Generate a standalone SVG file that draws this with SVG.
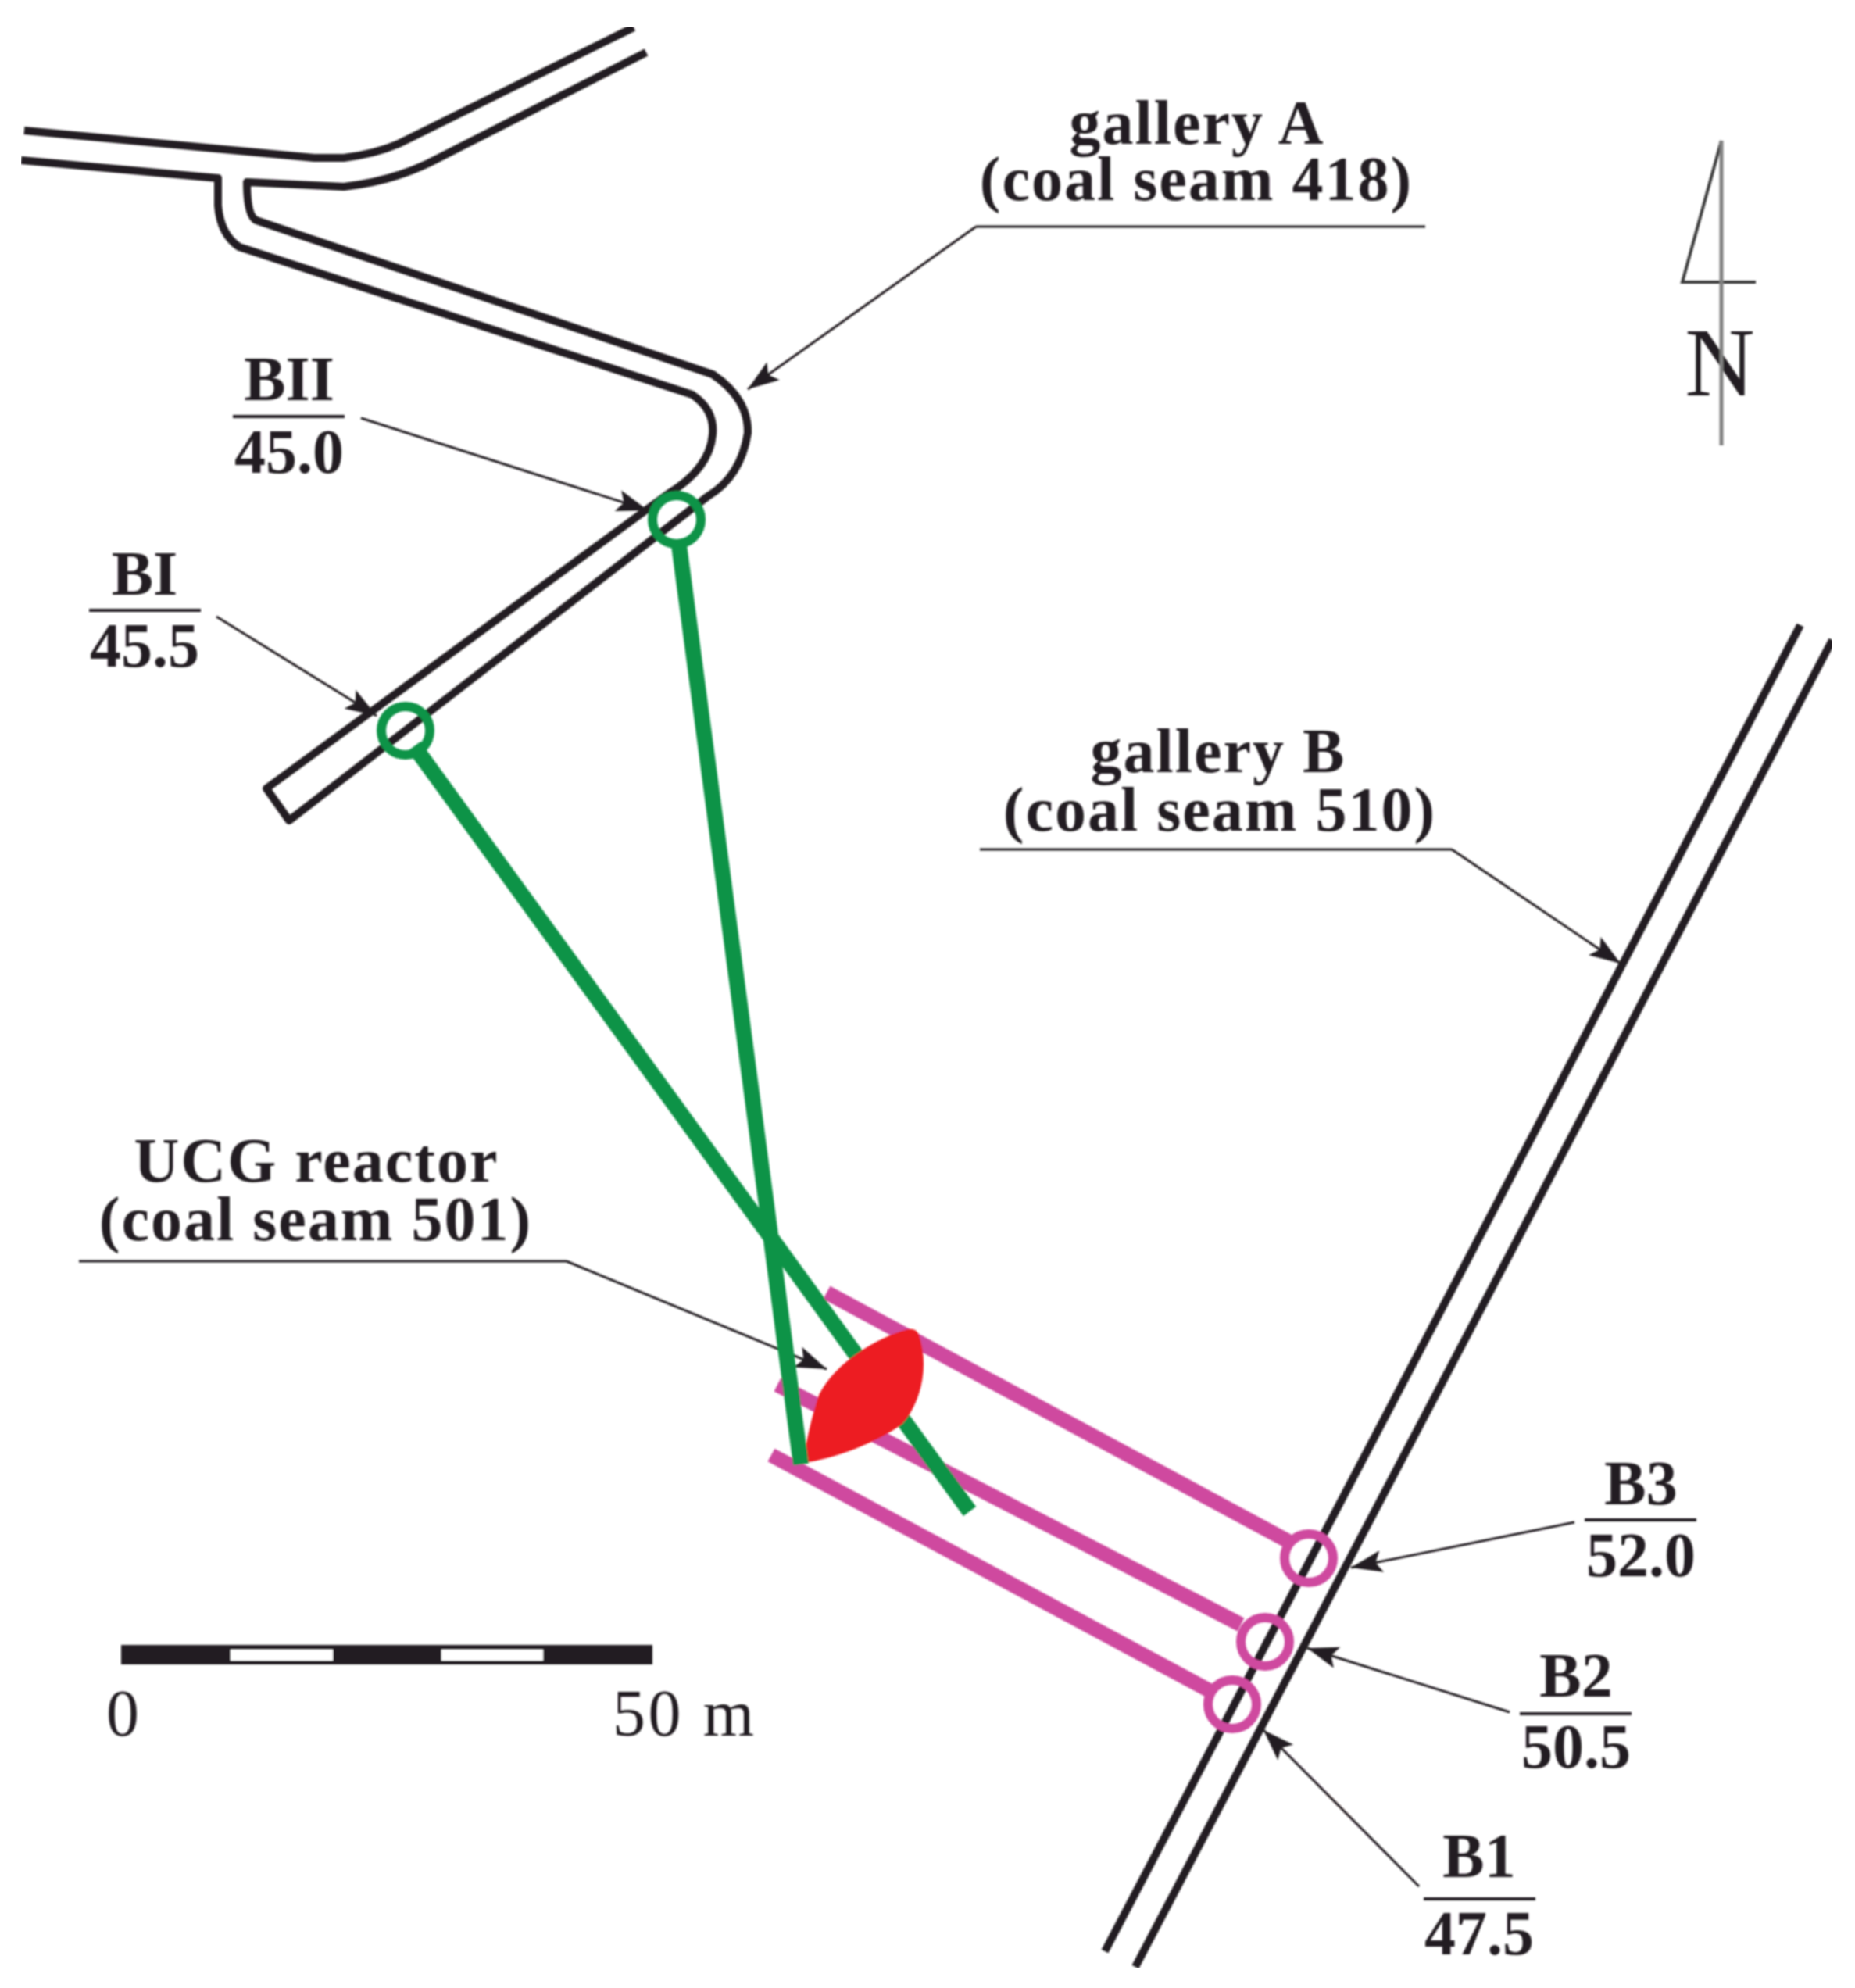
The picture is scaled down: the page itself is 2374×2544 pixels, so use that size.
<svg xmlns="http://www.w3.org/2000/svg" width="2374" height="2544" viewBox="0 0 2374 2544">
<style>
.g{fill:none;stroke:#231f20;stroke-width:10;stroke-linejoin:round}
.green{fill:none;stroke:#0f9347;stroke-width:20}
.gc{fill:none;stroke:#0f9347;stroke-width:12}
.pink{fill:none;stroke:#cf4a9f;stroke-width:19}
.pc{fill:none;stroke:#cf4a9f;stroke-width:12}
.lead{fill:none;stroke:#231f20;stroke-width:3}
.arr{fill:none;stroke:#231f20;stroke-width:3;marker-end:url(#a)}
.rule{fill:none;stroke:#231f20;stroke-width:4}
text{font-family:"Liberation Serif","Times New Roman",serif;fill:#231f20}
.b{font-weight:bold;font-size:80px;text-anchor:middle}
.t{font-weight:bold;font-size:80px;letter-spacing:2px;text-anchor:middle}
.r{font-size:84px}
</style>
<defs>
<marker id="a" markerUnits="userSpaceOnUse" markerWidth="44" markerHeight="30" refX="40" refY="15" orient="auto">
<path d="M0,1 L40,15 L0,29 L8,15 Z" fill="#231f20"/>
</marker>
<filter id="soft" x="0" y="0" width="100%" height="100%"><feGaussianBlur stdDeviation="0.9"/></filter>
</defs>
<rect width="2374" height="2544" fill="#fff"/>
<g filter="url(#soft)">
<g id="galleries">
<path class="g" d="M31,167 L402,202 L440,202 Q480,197 510,184 L811,35"/>
<path class="g" d="M27,205 L279,228 L279,263 Q282,300 306,316 L886,505 Q915,525 912,556 Q908,600 855,632 L341,1009 L370,1050 L906,635 Q948,610 957,554 Q958,510 912,479 L328,282 Q316,276 316,233 L440,239 Q500,232 548,209 L827,67"/>
<path class="g" d="M2304,800 L1414,2497"/>
<path class="g" d="M2345,819 L1453,2517"/>
</g>
<g id="connectors">
<path class="pink" d="M1058,1654 L1650,1973"/>
<path class="pink" d="M995,1772 L1588,2079"/>
<path class="pink" d="M987,1862 L1547,2163"/>
<path class="green" d="M530,955 L1241,1934"/>
<path class="arr" d="M462,535 L829,653"/>
<path class="arr" d="M277,789 L482,916"/>
<path class="lead" d="M1824,290 L1249,290"/>
<path class="arr" d="M1249,290 L957,498"/>
<path class="lead" d="M1858,1087 L1254,1087"/>
<path class="arr" d="M1858,1087 L2074,1233"/>
<path class="lead" d="M101,1614 L725,1614"/>
<path class="arr" d="M725,1614 L1058,1752"/>
<path class="arr" d="M2015,1948 L1729,2006"/>
<path class="arr" d="M1932,2191 L1673,2109"/>
<path class="arr" d="M1816,2414 L1617,2214"/>
</g>
<g id="reactor">
<path d="M1162,1701 C1120,1712 1068,1745 1048,1785 C1038,1815 1032,1845 1027,1872 C1065,1868 1125,1845 1155,1822 C1178,1795 1190,1750 1176,1708 Q1172,1699 1162,1701 Z" fill="#ed1c24"/>
<path class="green" d="M868,690 L1025,1874"/>
</g>
<g id="BII"><circle class="gc" cx="866" cy="665" r="31"/>
<text class="b" x="370" y="512">BII</text><path class="rule" d="M298,533 H441"/><text class="b" x="370" y="605">45.0</text></g>
<g id="BI"><circle class="gc" cx="519" cy="935" r="31"/>
<text class="b" x="185" y="761">BI</text><path class="rule" d="M114,781 H257"/><text class="b" x="185" y="853">45.5</text></g>
<g id="B3"><circle class="pc" cx="1675" cy="1994" r="31"/>
<text class="b" x="2100" y="1925">B3</text><path class="rule" d="M2028,1945 H2171"/><text class="b" x="2100" y="2017">52.0</text></g>
<g id="B2"><circle class="pc" cx="1619" cy="2101" r="31"/>
<text class="b" x="2017" y="2171">B2</text><path class="rule" d="M1945,2193 H2088"/><text class="b" x="2017" y="2262">50.5</text></g>
<g id="B1"><circle class="pc" cx="1577" cy="2181" r="31"/>
<text class="b" x="1893" y="2402">B1</text><path class="rule" d="M1822,2430 H1965"/><text class="b" x="1893" y="2501">47.5</text></g>
<g id="gallery-a"><text class="t" x="1532" y="184">gallery A</text><text class="t" x="1531" y="256">(coal seam 418)</text></g>
<g id="gallery-b"><text class="t" x="1559" y="988">gallery B</text><text class="t" x="1561" y="1063">(coal seam 510)</text></g>
<g id="ucg"><text class="t" x="405" y="1512">UCG reactor</text><text class="t" x="404" y="1587">(coal seam 501)</text></g>
<g id="north">
<text x="2201" y="506" font-size="124" text-anchor="middle">N</text>
<path d="M2203,180 L2153,361 H2247" fill="none" stroke="#3a3a3a" stroke-width="4"/>
<path d="M2203,180 V570" fill="none" stroke="#808080" stroke-width="5"/>
</g>
<g id="scale">
<rect x="155" y="2105" width="680" height="25" fill="#231f20"/>
<rect x="295" y="2111" width="131" height="14" fill="#fff"/>
<rect x="565" y="2111" width="130" height="14" fill="#fff"/>
<text class="r" x="157" y="2221" text-anchor="middle">0</text>
<text class="r" x="784" y="2221" textLength="181">50 m</text>
</g>
</g>
</svg>
